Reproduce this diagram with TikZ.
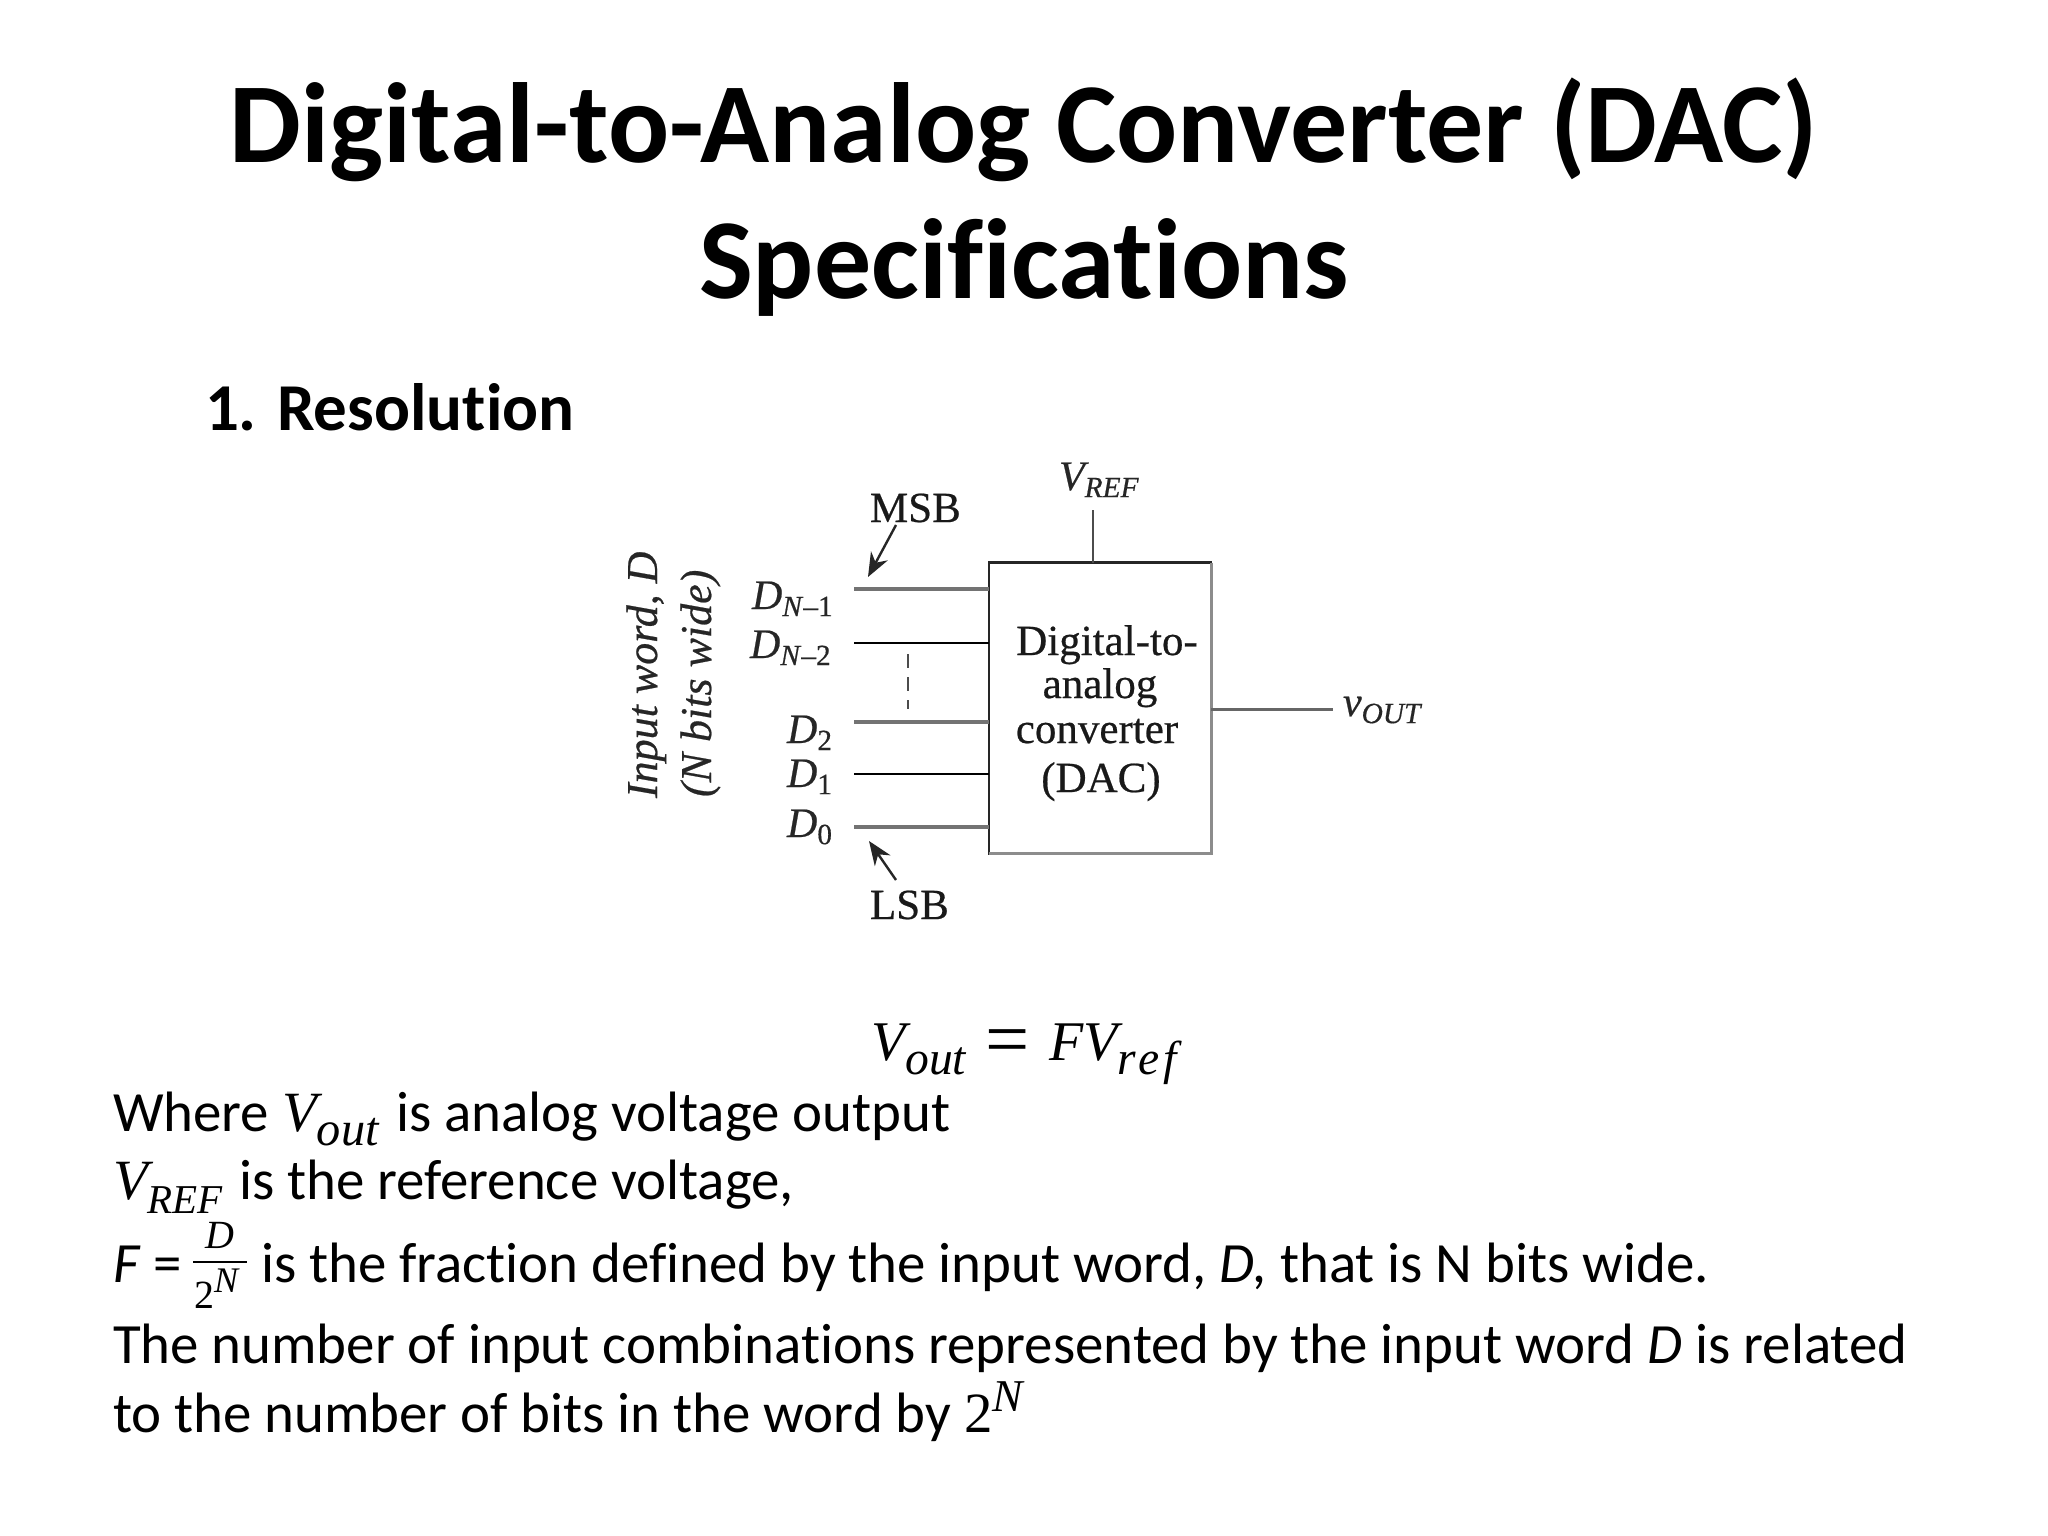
\documentclass[tikz,border=0pt]{standalone}
\usepackage{fontspec}
\usetikzlibrary{arrows.meta}
\newfontfamily\calb[Ligatures=NoCommon]{Carlito}
\newfontfamily\tms{Liberation Serif}
\newfontfamily\tmsd[FakeBold=0.5]{Liberation Serif}
\newcommand\fs[1]{\fontsize{#1}{#1}\selectfont}
\newcommand\mi[1]{{\tms\itshape #1}}
\newcommand\sbb[1]{\raisebox{-.25em}{\scalebox{.72}{\mi{#1}}}}
\newcommand\sbm[1]{\raisebox{-.25em}{\scalebox{.85}{\mi{#1}}}}
\newcommand\sbs[1]{\raisebox{-.25em}{\scalebox{.85}{\mi{\addfontfeature{LetterSpace=8}#1}}}}
\newcommand\dsb[1]{\raisebox{-.17em}{\scalebox{.7}{#1}}}
\newcommand\spp[1]{\raisebox{.36em}{\scalebox{.8}{\mi{#1}}}}
\tikzset{
  x=1pt,y=-1pt,
  every node/.style={inner sep=0pt,outer sep=0pt},
  titletext/.style={font=\calb\bfseries\fs{114},anchor=base},
  headtext/.style={font=\calb\bfseries\fs{67},anchor=base west},
  bodytext/.style={font=\calb\fs{56.9},anchor=base west},
  mathtext/.style={font=\tms\itshape\fs{56},anchor=base west},
  dia/.style={font=\tmsd\fs{43},text=black!90,anchor=base west},
  diai/.style={font=\tmsd\itshape\fs{42},text=black!85,anchor=base west},
  dacbox/.style={draw=black!85,line width=2.4pt,fill=white},
  wirethick/.style={draw=black!55,line width=4pt},
  wirethin/.style={draw=black,line width=2.4pt},
  ptr/.style={draw=black!85,line width=2.4pt,-{Stealth[length=24pt,width=19pt]}},
}
\begin{document}
\begin{tikzpicture}
\useasboundingbox (0,0) rectangle (2048,1536);
\fill[white] (0,0) rectangle (2048,1536);
% title
\node[titletext] (t1) at (1024,162) {Digital-to-Analog Converter (DAC)};
\node[titletext] (t2) at (1024,298) {Specifications};
\node[headtext] (h1) at (205,430) {1. Resolution};
% block
\node[dacbox,minimum width=222pt,minimum height=291pt] (dac) at (1100,708) {};
\draw[draw=black!45,line width=3pt] (dac.north east) -- (dac.south east) -- (dac.south west);
\node[dia,anchor=base] (l1) at (1107,655) {Digital-to-};
\node[dia,anchor=base] (l2) at (1100,698) {analog};
\node[dia,anchor=base] (l3) at (1097,743) {converter};
\node[dia,anchor=base] (l4) at (1101,792) {(DAC)};
% input wires
\coordinate (w1) at (854,589);
\coordinate (w2) at (854,643);
\coordinate (w3) at (854,722);
\coordinate (w4) at (854,774);
\coordinate (w5) at (854,827);
\draw[wirethick] (w1) -- (w1 -| dac.west);
\draw[wirethin]  (w2) -- (w2 -| dac.west);
\draw[wirethick] (w3) -- (w3 -| dac.west);
\draw[wirethin]  (w4) -- (w4 -| dac.west);
\draw[wirethick] (w5) -- (w5 -| dac.west);
\coordinate (d1) at (908,654);
\coordinate (d2) at (908,709);
\draw[draw=black!70,line width=1.6pt,dash pattern=on 14pt off 9pt] (d1) -- (d2);
% labels on wires
\node[diai] (dn1) at (752,609) {D\dsb{N\textup{–1}}};
\node[diai] (dn2) at (750,658) {D\dsb{N\textup{–2}}};
\node[diai] (d2l) at (787,743) {D\dsb{\textup{2}}};
\node[diai] (d1l) at (787,787) {D\dsb{\textup{1}}};
\node[diai] (d0l) at (787,837) {D\dsb{\textup{0}}};
% vref, vout
\coordinate (vr) at (1093,510);
\draw[draw=black!70,line width=2.4pt] (vr) -- (vr |- dac.north);
\node[diai] (vref) at (1059,490) {V\dsb{REF}};
\coordinate (vo) at (1333,709);
\draw[draw=black!60,line width=3pt] (vo -| dac.east) -- (vo);
\node[diai] (vout) at (1343,716) {v\dsb{OUT}};
% msb lsb
\node[dia] (msb) at (870,522) {MSB};
\node[dia] (lsb) at (870,919) {LSB};
\coordinate (ma) at (868,577);
\coordinate (la) at (869,841);
\draw[ptr] (896,525) -- (ma);
\draw[ptr] (896,880) -- (la);
% rotated
\node[diai,font=\tmsd\itshape\fs{44},rotate=90,anchor=base west] (iw) at (657,798) {Input word, D};
\node[diai,font=\tmsd\itshape\fs{44},rotate=90,anchor=base west] (nb) at (711,797) {(N bits wide)};
% equation
\node[mathtext] (eq) at (871,1060) {V\sbm{out}\hspace{.35em}\raisebox{-.09em}{\upshape\scalebox{1.4}{=}}\hspace{.35em}FV\sbs{ref}};
% body
\node[bodytext] (b1) at (113,1131) {Where \mi{V}\sbm{out}\hspace{.08em} is analog voltage output};
\node[bodytext] (b2) at (113,1199) {\mi{V}\sbb{REF}\hspace{.06em} is the reference voltage,};
\node[bodytext] (b3a) at (113,1282) {\textit{F} =};
\coordinate (fa) at (193,1262);
\coordinate (fb) at (247,1262);
\draw[draw=black,line width=2pt] (fa) -- (fb);
\node[mathtext,font=\tms\itshape\fs{40}] (fn) at (205,1248) {D};
\node[mathtext,font=\tms\itshape\fs{40}] (fd) at (194,1308) {{\upshape 2}\raisebox{.4em}{\scalebox{.9}{N}}};
\node[bodytext] (b3b) at (261,1282) {is the fraction defined by the input word, \textit{D,} that is N bits wide.};
\node[bodytext] (b4) at (113,1363) {The number of input combinations represented by the input word \textit{D} is related};
\node[bodytext] (b5) at (113,1432) {to the number of bits in the word by \mi{\upshape 2}\spp{N}};
\end{tikzpicture}
\end{document}
